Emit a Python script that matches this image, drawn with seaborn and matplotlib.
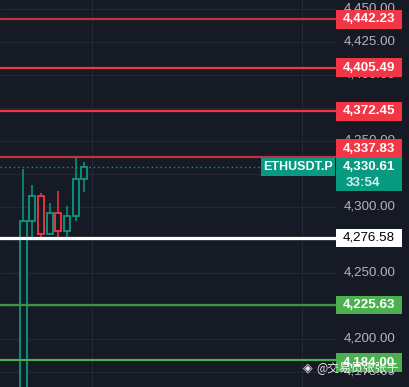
import numpy as np
import pandas as pd
import matplotlib
matplotlib.use("Agg")
import matplotlib.pyplot as plt
import matplotlib.transforms as mtrans
from matplotlib.patches import Rectangle
import seaborn as sns

# ---- data ----
opens  = [4150.0, 4289.2, 4308.1, 4279.3, 4295.2, 4281.6, 4293.0, 4321.0]
closes = [4289.4, 4308.1, 4279.3, 4295.2, 4281.6, 4293.0, 4321.0, 4330.61]
highs  = [4328.8, 4316.7, 4310.6, 4303.0, 4312.1, 4300.5, 4337.4, 4333.8]
lows   = [4140.0, 4277.5, 4276.8, 4279.3, 4276.0, 4276.8, 4289.2, 4311.6]

red_levels = [4442.23, 4405.49, 4372.45, 4337.83]
white_level = 4276.58
green_levels = [4225.63, 4184.00]
last_price = 4330.61
symbol = "ETHUSDT.P"
countdown = "33:54"
grid_values = [4175, 4200, 4225, 4250, 4275, 4300, 4325, 4350, 4375, 4400, 4425, 4450]
tick_labels = [4175, 4200, 4250, 4300, 4350, 4400, 4425, 4450]  # the ones not hidden by price tags
watermark = "@交易员张张子"

BG = "#161a25"
GRID = "#242835"
TEAL = "#089981"
RED = "#f23645"
GREEN = "#4caf50"

sns.set_theme(style="dark", rc={"axes.facecolor": BG, "figure.facecolor": BG})
plt.rcParams["font.family"] = ["Liberation Sans", "Noto Sans CJK SC", "DejaVu Sans"]

W, H = 410, 387
fig = plt.figure(figsize=(W / 100, H / 100), dpi=100)
ax = fig.add_axes([0, 0, 1, 1])
ax.set_facecolor(BG)

step = 8.69
x0px = 23.5
ax.set_xlim(-x0px / step, (W - x0px) / step)
ax.set_ylim(4163.6, 4456.8)
ax.set_axis_off()

ppu = H / (4456.8 - 4163.6)  # pixels per price unit

def fx(px):
    return px / W

blend = mtrans.blended_transform_factory(ax.transAxes, ax.transData)

# grid
for t in grid_values:
    ax.axhline(t, xmin=0, xmax=fx(336), color=GRID, lw=0.8, zorder=0)
for px in (92, 302):
    ax.axvline((px - x0px) / step, color=GRID, lw=0.8, zorder=0)

# candles
df = pd.DataFrame({"i": np.arange(len(opens)), "open": opens, "close": closes,
                   "high": highs, "low": lows})
df["color"] = np.where(df["close"] >= df["open"], TEAL, RED)
for _, r in df.iterrows():
    ax.vlines(r["i"], r["low"], r["high"], color=r["color"], lw=1.1, zorder=2)
    lo, hi = min(r["open"], r["close"]), max(r["open"], r["close"])
    ax.bar(r["i"], hi - lo, bottom=lo, width=0.7, facecolor=BG,
           edgecolor=r["color"], linewidth=1.3, zorder=3)

# last price dotted line
ax.axhline(last_price, xmin=0, xmax=fx(261), color=TEAL, lw=1.0,
           ls=(0, (1, 2.2)), zorder=1)

# level lines
line_cols_red = ["#c0323d", RED, RED, "#c0323d"]
for lv, c in zip(red_levels, line_cols_red):
    ax.axhline(lv, xmin=0, xmax=fx(336), color=c, lw=1.6, zorder=4)
ax.axhline(white_level, xmin=0, xmax=fx(336), color="white", lw=2.3, zorder=4)
for lv, c in zip(green_levels, ["#3f9443", GREEN]):
    ax.axhline(lv, xmin=0, xmax=fx(336), color=c, lw=1.6, zorder=4)

# tick labels
for t in tick_labels:
    ax.text(fx(369.5), t, f"{t:,.2f}", transform=blend, ha="center", va="center",
            color="#b2b5be", fontsize=9.6, zorder=5)

bh = 18.7 / ppu  # box height in price units

def label(yc, text, fc, tc="white", x_l=336, x_r=402, bold=True):
    ax.add_patch(Rectangle((fx(x_l), yc - bh / 2), fx(x_r) - fx(x_l), bh,
                           transform=blend, facecolor=fc, edgecolor="none",
                           zorder=6, clip_on=False))
    ax.text(fx((x_l + x_r) / 2), yc, text, transform=blend, ha="center",
            va="center", color=tc, fontsize=9.6,
            fontweight="bold" if bold else "normal", zorder=7)

label(red_levels[0], f"{red_levels[0]:,.2f}", RED)
label(red_levels[1], f"{red_levels[1]:,.2f}", RED)
label(red_levels[2], f"{red_levels[2]:,.2f}", RED)
label(red_levels[3] + 8.5 / ppu, f"{red_levels[3]:,.2f}", RED)
label(white_level, f"{white_level:,.2f}", "white", tc="black", bold=False)
label(green_levels[0], f"{green_levels[0]:,.2f}", GREEN)
label(green_levels[1] - 2.5 / ppu, f"{green_levels[1]:,.2f}", GREEN)

# price label with countdown
top = last_price + 9 / ppu
hb = 33 / ppu
ax.add_patch(Rectangle((fx(336), top - hb), fx(402) - fx(336), hb, transform=blend,
                       facecolor=TEAL, edgecolor="none", zorder=8, clip_on=False))
ax.text(fx(369), last_price, f"{last_price:,.2f}", transform=blend, ha="center",
        va="center", color="white", fontsize=9.6, fontweight="bold", zorder=9)
ax.text(fx(346), last_price - 16 / ppu, countdown, transform=blend, ha="left",
        va="center", color="#d6eee9", fontsize=9.6, fontweight="bold", zorder=9)
# symbol label
ax.add_patch(Rectangle((fx(261), top - bh), fx(335) - fx(261), bh, transform=blend,
                       facecolor=TEAL, edgecolor="none", zorder=8))
ax.text(fx(298), top - bh / 2, symbol, transform=blend, ha="center", va="center",
        color="white", fontsize=9.0, fontweight="bold", zorder=9)

# watermark
fig.text(303 / W, 1 - 368 / H, "◈", ha="left", va="center", color="white",
         alpha=0.9, fontsize=9, family=["DejaVu Sans"], zorder=10)
fig.text(316 / W, 1 - 368 / H, watermark, ha="left", va="center", color="white",
         alpha=0.9, fontsize=8.6, family=["Noto Sans CJK SC", "DejaVu Sans"], zorder=10)

fig.savefig("out.png", dpi=100, facecolor=BG)
